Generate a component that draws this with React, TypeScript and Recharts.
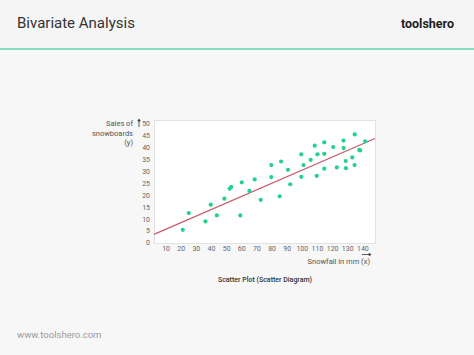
import { ScatterChart, Scatter, XAxis, YAxis, ReferenceLine } from "recharts";

// snowfall in mm (x) and snowboard sales (y)
const snowfall = [
  21, 25, 36, 39.5, 43.5, 48.5, 52, 53, 59, 60, 65, 68.5, 72.5, 79.5, 79.5, 85, 86, 90.5, 92, 99.3,
  99.3, 100.8, 105.5, 108.2, 109.5, 110, 114.5, 114.5, 114.5, 120.4, 122.8, 127.2, 127.3, 128.7, 128.8,
  133, 134.5, 134.6, 137.6, 138.2, 141.5,
];
const sales = [
  5.5, 12.5, 9, 16, 11.5, 18.5, 22.6, 23.4, 11.5, 25.3, 21.7, 26.5, 18, 27.5, 32.5, 19.5, 34, 30.5, 24.5, 37,
  27.6, 32.5, 34.7, 40.6, 28, 37, 42, 37.2, 31, 40, 31.5, 42.7, 39.6, 34.2, 31.2,
  35.7, 32.5, 45.3, 38.8, 38.6, 42.4,
];

// regression line end points
const trendX = [2, 148];
const trendY = [3.6, 43.6];

const xTicks = [10, 20, 30, 40, 50, 60, 70, 80, 90, 100, 110, 120, 130, 140];
const yTicks = [0, 5, 10, 15, 20, 25, 30, 35, 40, 45, 50];

const points = snowfall.map((x, i) => ({ x, y: sales[i] }));

const font = "Roboto, 'Noto Sans', sans-serif";
const tick = { fontSize: 7, fill: "#666", fontFamily: font };

const Dot = (p: any) => <circle cx={p.cx} cy={p.cy} r={2.1} fill="#22d18e" />;

export default function App() {
  return (
    <div style={{ position: "absolute", left: 0, top: 0, width: 474, height: 355, background: "#f7f7f7", fontFamily: font, overflow: "hidden" }}>
      <div style={{ position: "absolute", left: 0, top: 0, width: 474, height: 48, background: "#f5f5f5", borderBottom: "2px solid #86dcc0" }} />
      <div style={{ position: "absolute", left: 17, top: 14, fontSize: 15, color: "#333" }}>Bivariate Analysis</div>
      <div style={{ position: "absolute", right: 20, top: 16, fontSize: 12.5, fontWeight: 700, color: "#222" }}>toolshero</div>

      <div style={{ position: "absolute", left: 154, top: 120, width: 220, height: 122, background: "#fff", border: "1px solid #e2e2e2" }} />

      <div style={{ position: "absolute", right: 474 - 133, top: 119, fontSize: 7.5, lineHeight: "9.5px", color: "#555", textAlign: "right" }}>
        Sales of<br />snowboards<br />(y)
      </div>
      <svg style={{ position: "absolute", left: 136, top: 118 }} width={6} height={10}>
        <line x1={3} y1={2} x2={3} y2={9} stroke="#333" strokeWidth={0.8} />
        <path d="M1.2 3.2 L3 0.5 L4.8 3.2 Z" fill="#333" />
      </svg>

      <div style={{ position: "absolute", left: 0, top: 0 }}>
        <ScatterChart width={474} height={355} margin={{ top: 120, right: 99, bottom: 92, left: 124 }}>
          <XAxis
            type="number"
            dataKey="x"
            domain={[2, 148]}
            ticks={xTicks}
            axisLine={false}
            tickLine={false}
            tickSize={0}
            tickMargin={3}
            height={20}
            tick={tick}
            interval={0}
          />
          <YAxis
            type="number"
            dataKey="y"
            domain={[0, 51.3]}
            ticks={yTicks}
            axisLine={false}
            tickLine={false}
            tickSize={0}
            tickMargin={4}
            width={30}
            tick={tick}
            interval={0}
          />
          <Scatter data={points} shape={Dot} isAnimationActive={false} />
          <ReferenceLine
            segment={[
              { x: trendX[0], y: trendY[0] },
              { x: trendX[1], y: trendY[1] },
            ]}
            stroke="#c95a6c"
            strokeWidth={1.2}
          />
        </ScatterChart>
      </div>

      <svg style={{ position: "absolute", left: 362, top: 252 }} width={10} height={5}>
        <line x1={0} y1={2.5} x2={8} y2={2.5} stroke="#333" strokeWidth={0.8} />
        <path d="M6.8 0.7 L9.5 2.5 L6.8 4.3 Z" fill="#333" />
      </svg>
      <div style={{ position: "absolute", right: 474 - 370, top: 257, fontSize: 7.5, color: "#555" }}>Snowfall in mm (x)</div>
      <div style={{ position: "absolute", left: 165, width: 200, textAlign: "center", top: 276, fontSize: 7, fontWeight: 500, color: "#333" }}>
        Scatter Plot (Scatter Diagram)
      </div>

      <div style={{ position: "absolute", left: 17, top: 329, fontSize: 9.5, color: "#9a9a9a" }}>www.toolshero.com</div>
    </div>
  );
}
